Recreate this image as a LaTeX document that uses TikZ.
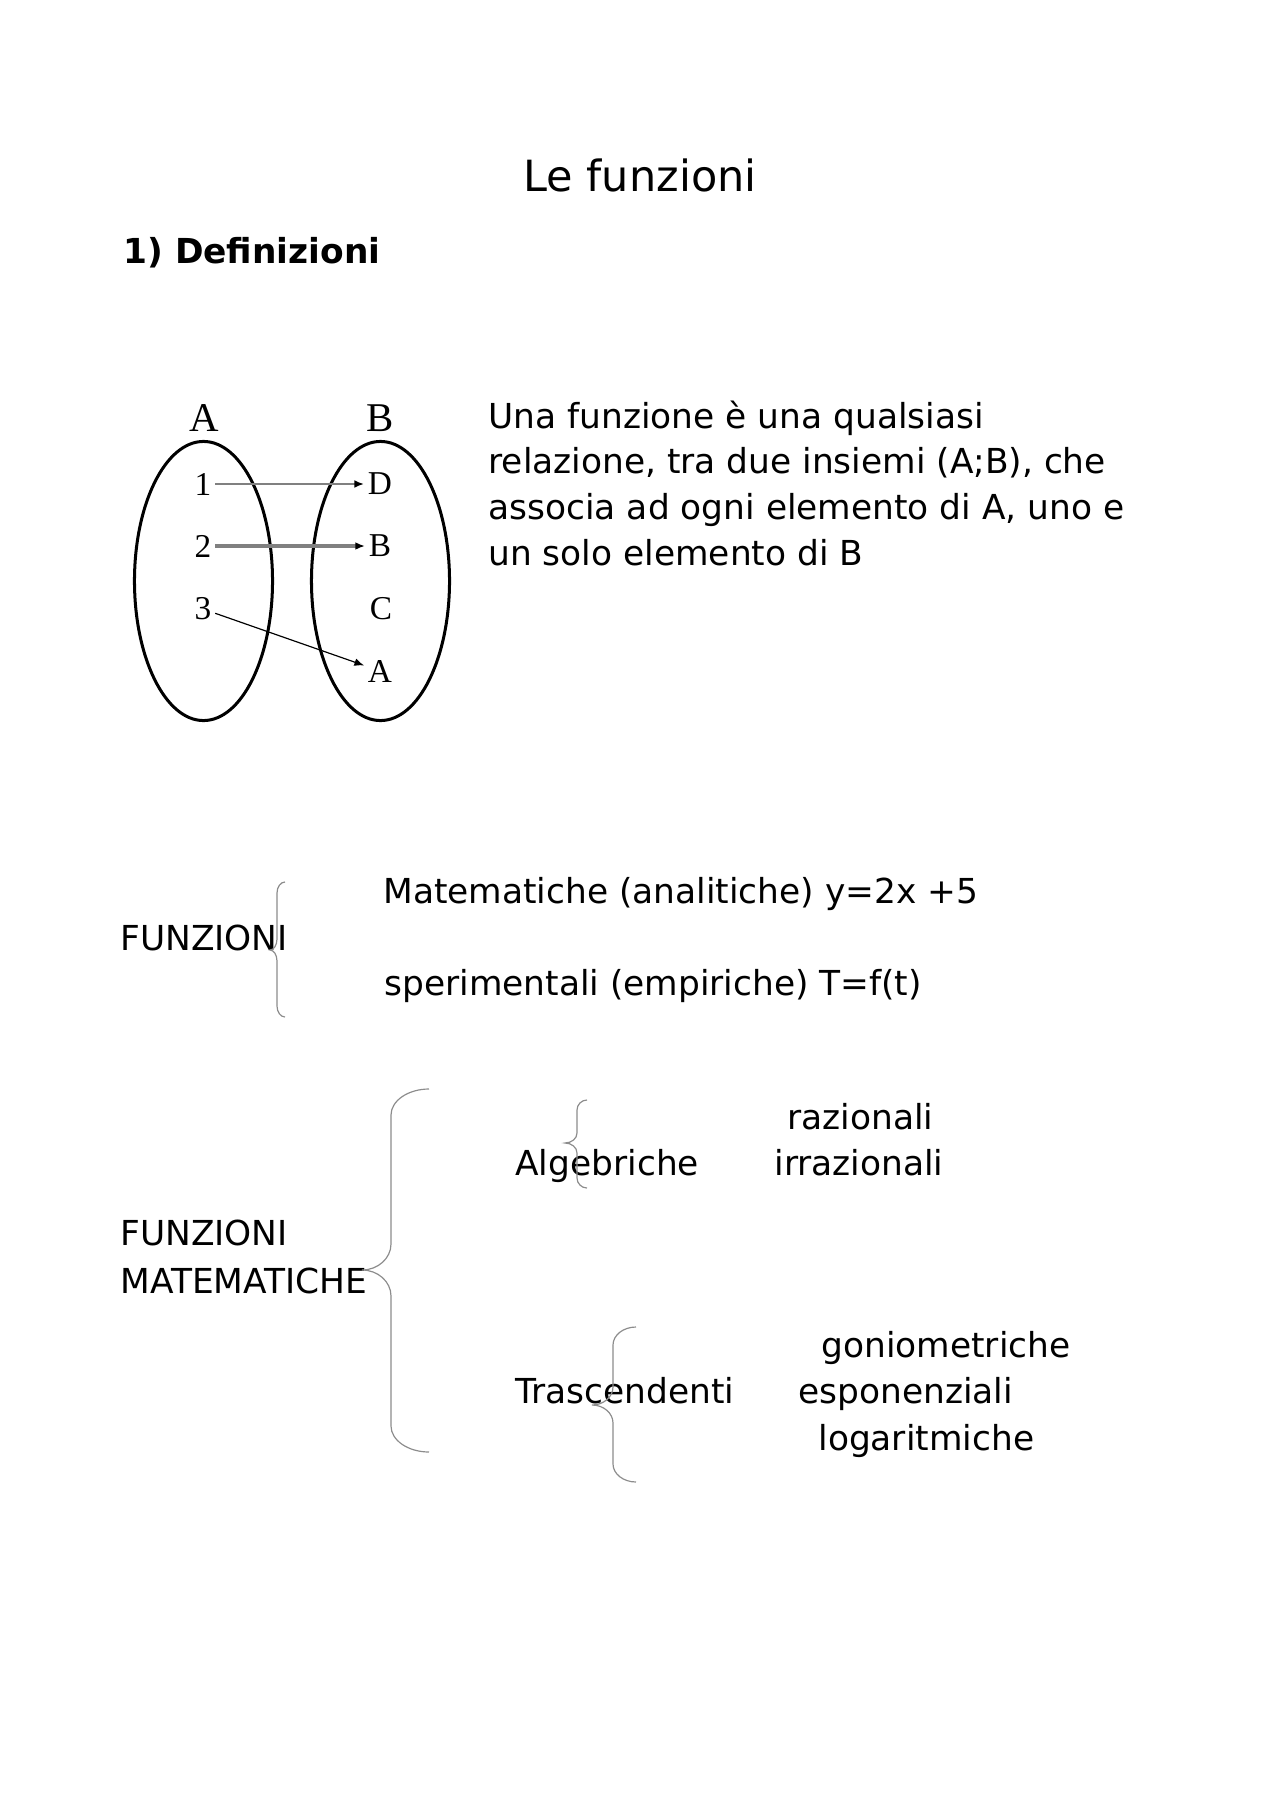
\documentclass[tikz,border=0pt]{standalone}
\usepackage{fontspec}
\setmainfont{DejaVu Sans}
\newfontfamily\vennfont{Liberation Serif}
\usetikzlibrary{arrows.meta,shapes.geometric}

\begin{document}
\begin{tikzpicture}[x=0.46506pt, y=-0.46506pt]
    \tikzstyle{testo}=[anchor=base west, inner sep=0pt, font=\fontsize{16}{21.4}\selectfont]
    \tikzstyle{insieme}=[draw, ellipse, line width=1.4pt, minimum width=64.2pt, minimum height=129.8pt, inner sep=0pt]
    \tikzstyle{elem}=[inner sep=1.6pt, font=\vennfont\fontsize{15.5}{18}\selectfont]
    \tikzstyle{nome}=[inner sep=0pt, font=\vennfont\fontsize{19}{22}\selectfont]
    \tikzstyle{freccia}=[-{Latex[length=4.5pt,width=3.6pt,color=black]}]
    \tikzstyle{graffa}=[draw=black!45, line width=0.55pt]
    % #1 x estremi, #2 x tratto, #3 x punta, #4 y alto, #5 y punta, #6 y basso, #7 curva
    \def\graffapath#1#2#3#4#5#6#7{\draw[graffa] (#1,#4) .. controls ({#1-0.55*(#1-#2)},#4) and (#2,{#4+0.45*#7}) .. (#2,{#4+#7})
        -- (#2,{#5-#7}) .. controls (#2,{#5-0.45*#7}) and ({#3+0.55*(#2-#3)},#5) .. (#3,#5)
        .. controls ({#3+0.55*(#2-#3)},#5) and (#2,{#5+0.45*#7}) .. (#2,{#5+#7})
        -- (#2,{#6-#7}) .. controls (#2,{#6-0.45*#7}) and ({#1-0.55*(#1-#2)},#6) .. (#1,#6);}

    \useasboundingbox (0,0) rectangle (1280,1811);

    \node[anchor=base, inner sep=0pt, font=\fontsize{20}{24}\selectfont] (titolo) at (640,192) {Le funzioni};
    \node[testo, font=\bfseries\fontsize{16}{20}\selectfont] (sez1) at (123,263) {1) Definizioni};

    \node[insieme] (insA) at (203.5,581) {};
    \node[insieme] (insB) at (380.5,581) {};
    \node[nome] (nomeA) at (204,418) {A};
    \node[nome] (nomeB) at (380,418) {B};
    \node[elem] (n1) at (203,484) {1};
    \node[elem] (n2) at (203,546) {2};
    \node[elem] (n3) at (203,609) {3};
    \node[elem] (vD) at (380,484) {D};
    \node[elem] (vB) at (380,546) {B};
    \node[elem] (vC) at (381,609) {C};
    \node[elem] (vA) at (380,671) {A};

    \draw [freccia, draw=black!50, line width=1pt] (n1) -- (vD);
    \draw [freccia, draw=black!50, line width=1.5pt] (n2) -- (vB);
    \draw [freccia, line width=0.55pt] (n3) -- (vA);

    \node[testo] (def1) at (488,428) {Una funzione è una qualsiasi};
    \node[testo] (def2) at (488,473) {relazione, tra due insiemi (A;B), che};
    \node[testo] (def3) at (488,519) {associa ad ogni elemento di A, uno e};
    \node[testo] (def4) at (488,565) {un solo elemento di B};

    \node[testo] (funz) at (120,950) {FUNZIONI};
    \node[testo] (mate) at (383,903) {Matematiche (analitiche) y=2x +5};
    \node[testo] (sper) at (384,995) {sperimentali (empiriche) T=f(t)};
    \graffapath{285}{277}{270}{882}{950}{1017}{11}

    \node[testo] (funzm1) at (120,1245) {FUNZIONI};
    \node[testo] (funzm2) at (120,1293) {MATEMATICHE};
    \graffapath{429}{391}{362}{1089}{1270}{1452}{26}

    \node[testo] (alg) at (515,1175) {Algebriche};
    \graffapath{587}{577}{565}{1100}{1143}{1188}{10}
    \node[testo] (raz) at (787,1129) {razionali};
    \node[testo] (irr) at (774,1175) {irrazionali};

    \node[testo] (tra) at (515,1403) {Trascendenti};
    \graffapath{636}{613}{592}{1327}{1405}{1482}{18}
    \node[testo] (gon) at (821,1357) {goniometriche};
    \node[testo] (esp) at (798,1403) {esponenziali};
    \node[testo] (log) at (818,1450) {logaritmiche};
\end{tikzpicture}
\end{document}
